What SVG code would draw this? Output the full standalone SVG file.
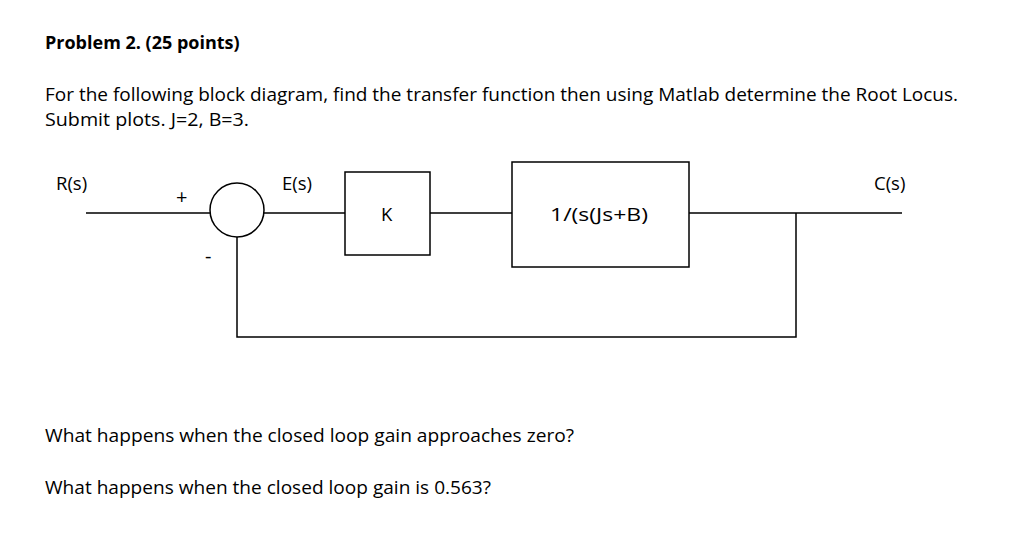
<svg xmlns="http://www.w3.org/2000/svg" width="1024" height="544" viewBox="0 0 1024 544">
<style>
text{font-family:"Open Sans","Liberation Sans",sans-serif;font-size:18.5px;fill:#000}
.b{font-weight:bold;font-size:18px}
.s{fill:#fff;stroke:#000;stroke-width:1.5}
.l{fill:none;stroke:#000;stroke-width:1.5}
</style>
<rect width="1024" height="544" fill="#fff"/>
<text class="b" x="45" y="49">Problem 2. (25 points)</text>
<text x="45" y="101" textLength="913" lengthAdjust="spacingAndGlyphs">For the following block diagram, find the transfer function then using Matlab determine the Root Locus.</text>
<text x="45" y="126" textLength="204" lengthAdjust="spacingAndGlyphs">Submit plots.  J=2, B=3.</text>
<g id="connectors">
<path class="l" d="M86 213H210M264 213H345M430 213H512M689 213H902M796 213V337H237V237"/>
</g>
<g id="sum"><circle class="s" cx="237" cy="210" r="27"/>
<text x="176" y="204" style="font-size:20px">+</text><text x="205" y="263" style="font-size:20px">-</text></g>
<g id="K"><rect class="s" x="345" y="172" width="85" height="83"/><text x="381" y="221">K</text></g>
<g id="G"><rect class="s" x="512" y="162" width="177" height="105"/><text x="550" y="221" textLength="98" lengthAdjust="spacingAndGlyphs">1/(s(Js+B)</text></g>
<text x="56" y="190">R(s)</text>
<text x="282" y="190">E(s)</text>
<text x="874" y="190">C(s)</text>
<text x="45" y="442" textLength="529" lengthAdjust="spacingAndGlyphs">What happens when the closed loop gain approaches zero?</text>
<text x="45" y="494" textLength="446" lengthAdjust="spacingAndGlyphs">What happens when the closed loop gain is 0.563?</text>
</svg>
